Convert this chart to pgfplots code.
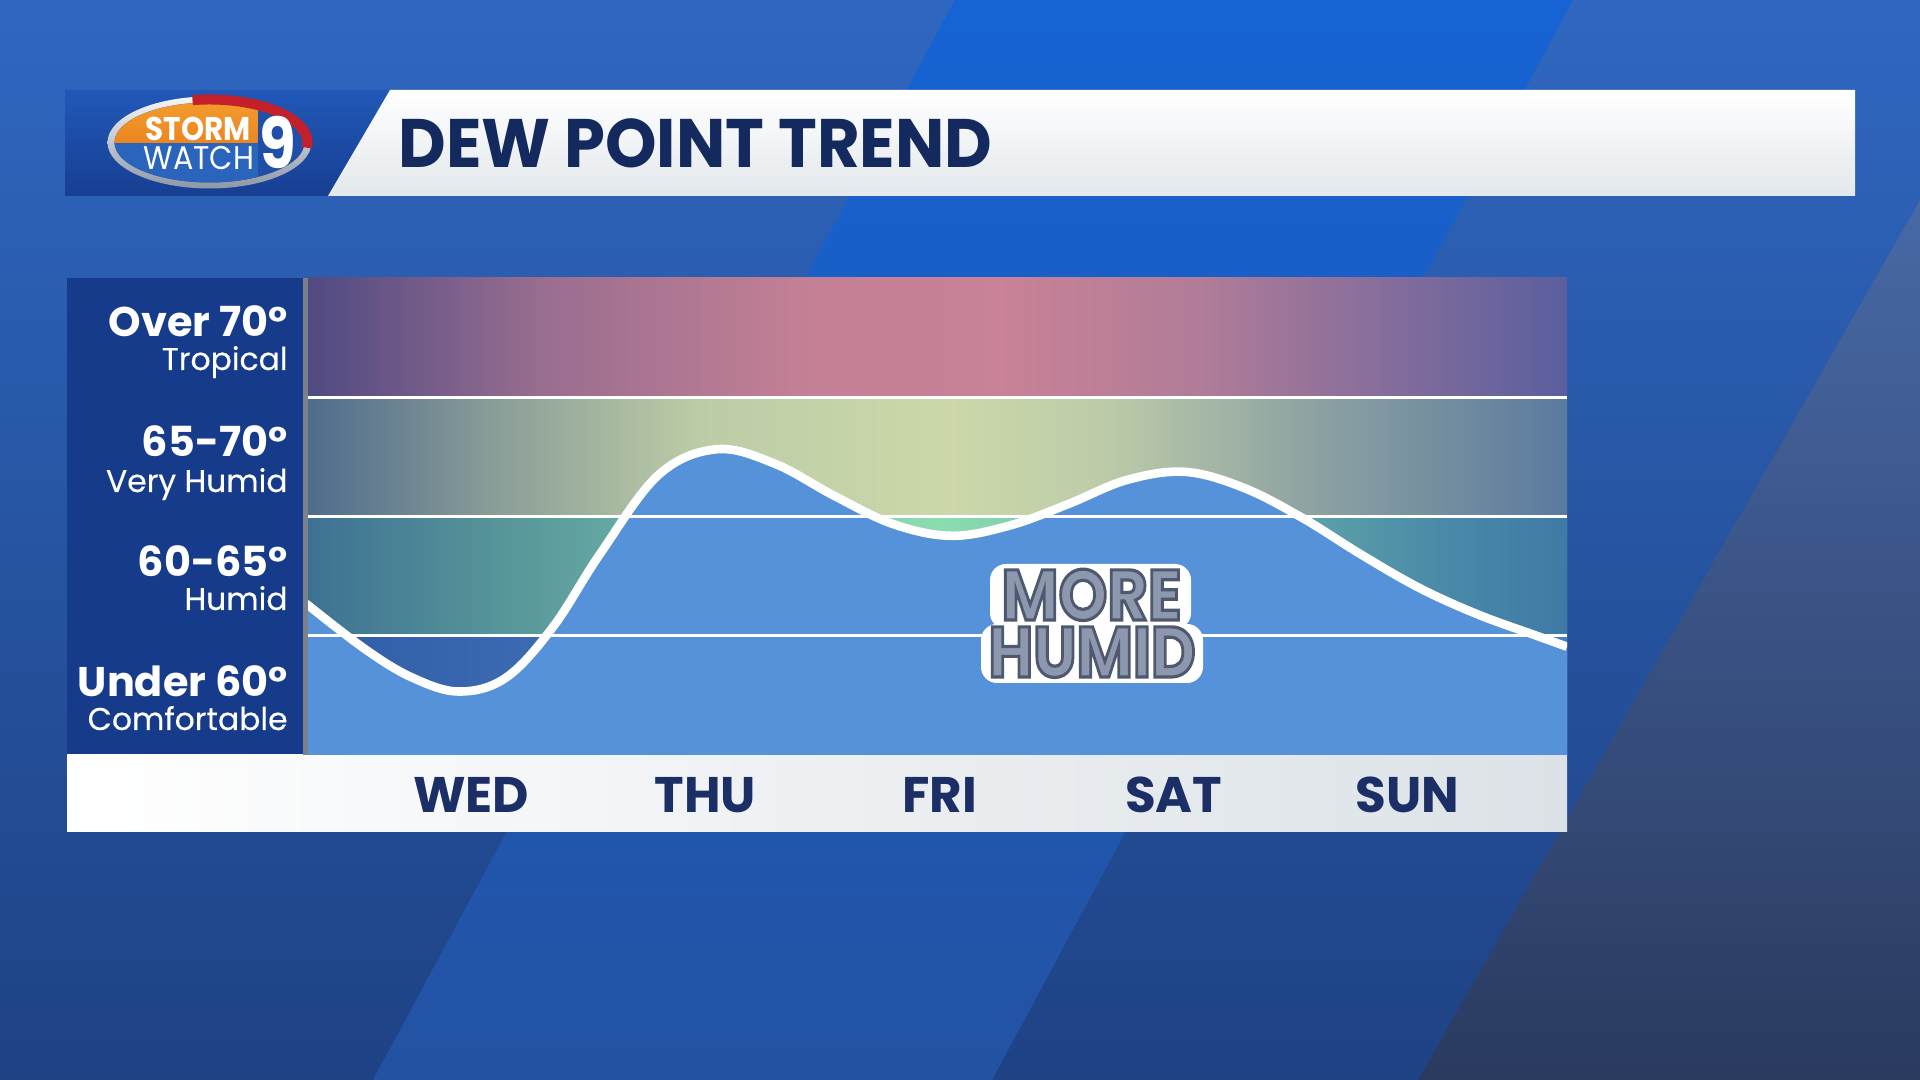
\documentclass[border=0pt]{standalone}
\usepackage{pgfplots}
\usepackage{pgfplotstable}
\pgfplotsset{compat=1.18}
\usepackage{fontspec}
\setmainfont{Poppins}
\newfontfamily\medfont{Poppins}[FakeBold=0.35]

% colours
\definecolor{bgtop}{HTML}{2F67C0}
\definecolor{bgbot}{HTML}{1E4284}
\definecolor{stripetop}{HTML}{1663D4}
\definecolor{stripebot}{HTML}{2452A2}
\definecolor{greytop}{HTML}{4B6AA5}
\definecolor{greybot}{HTML}{2C3A5C}
\definecolor{barblue1}{HTML}{2158B8}
\definecolor{barblue2}{HTML}{173F92}
\definecolor{barwhite2}{HTML}{E3E8EC}
\definecolor{titlenavy}{HTML}{142A5E}
\definecolor{daynavy}{HTML}{1B2F66}
\definecolor{colblue}{HTML}{163B8B}
\definecolor{colborder}{HTML}{7C8088}
\definecolor{stripgrey}{HTML}{DCE2E7}
\definecolor{curvefill}{HTML}{5592DA}
\definecolor{lettergrey}{HTML}{8D98AF}
\definecolor{logoorange}{HTML}{F5A030}
\definecolor{logoorange2}{HTML}{EC8620}
\definecolor{logoblue}{HTML}{2A64BC}
\definecolor{logoblue2}{HTML}{1F4FA6}
\definecolor{logored}{HTML}{C4202C}
\definecolor{silvertop}{HTML}{F4F6F8}
\definecolor{silverbot}{HTML}{8E98A6}

% band gradients, left to right (25bp = left edge, 75bp = right edge)
\pgfdeclarehorizontalshading{bandtrop}{100bp}{
  rgb(0bp)=(0.310,0.290,0.510); rgb(25bp)=(0.310,0.290,0.510);
  rgb(34.5bp)=(0.604,0.431,0.565); rgb(45bp)=(0.769,0.502,0.584);
  rgb(52.5bp)=(0.788,0.510,0.588); rgb(60.5bp)=(0.690,0.486,0.596);
  rgb(67bp)=(0.541,0.435,0.608); rgb(75bp)=(0.353,0.369,0.620);
  rgb(100bp)=(0.353,0.369,0.620)}
\pgfdeclarehorizontalshading{bandvery}{100bp}{
  rgb(0bp)=(0.306,0.420,0.549); rgb(25bp)=(0.306,0.420,0.549);
  rgb(32.5bp)=(0.541,0.616,0.596); rgb(40.5bp)=(0.737,0.800,0.651);
  rgb(50.5bp)=(0.800,0.847,0.667); rgb(56.5bp)=(0.741,0.800,0.659);
  rgb(64.5bp)=(0.561,0.643,0.635); rgb(75bp)=(0.353,0.478,0.624);
  rgb(100bp)=(0.353,0.478,0.624)}
\pgfdeclarehorizontalshading{bandhum}{100bp}{
  rgb(0bp)=(0.239,0.443,0.576); rgb(25bp)=(0.239,0.443,0.576);
  rgb(32.5bp)=(0.341,0.580,0.600); rgb(38.5bp)=(0.408,0.682,0.647);
  rgb(50bp)=(0.553,0.863,0.690); rgb(62.5bp)=(0.388,0.671,0.659);
  rgb(70bp)=(0.290,0.541,0.659); rgb(75bp)=(0.247,0.478,0.647);
  rgb(100bp)=(0.247,0.478,0.647)}
\pgfdeclarehorizontalshading{bandcomf}{100bp}{
  rgb(0bp)=(0.184,0.361,0.651); rgb(25bp)=(0.184,0.361,0.651);
  rgb(32.5bp)=(0.227,0.408,0.690); rgb(40bp)=(0.275,0.459,0.737);
  rgb(75bp)=(0.290,0.486,0.765); rgb(100bp)=(0.290,0.486,0.765)}

% dew point, x in days (WED = 0)
\pgfplotstableread{
x      y
-0.705 61.35
-0.450 59.42
-0.250 58.24
-0.050 57.66
0.150  58.25
0.350  60.37
0.550  63.42
0.800  66.74
1.050  67.82
1.300  67.20
1.550  65.87
1.800  64.69
2.050  64.19
2.300  64.62
2.550  65.52
2.800  66.53
3.050  66.87
3.300  66.20
3.550  64.94
3.800  63.41
4.050  62.00
4.300  60.89
4.550  60.00
4.680  59.54
}\dewpoint

\newcommand\primfont{\fontsize{20.7pt}{24pt}\selectfont\bfseries}
\newcommand\secfont{\fontsize{15.7pt}{18pt}\selectfont\medfont}
\newcommand\dayfont{\fontsize{25pt}{30pt}\selectfont\bfseries}
\newcommand\stickfont{\fontsize{35.7pt}{40pt}\selectfont\bfseries}
% outlined sticker letters: fill + stroke
\newcommand\outlined[1]{\special{pdf:code 2 Tr 1.6 w 0.306 0.345 0.431 RG}#1\special{pdf:code 0 Tr}}

\begin{document}
\begin{tikzpicture}[x=0.5pt,y=0.5pt]
\useasboundingbox (0,0) rectangle (1920,1080);

% background
\shade[top color=bgtop, bottom color=bgbot] (0,0) rectangle (1920,1080);
\shade[top color=stripetop, bottom color=stripebot] (955,1080) -- (1573,1080) -- (992,0) -- (373,0) -- cycle;
\shade[top color=greytop, bottom color=greybot, opacity=0.9] (1418,0) -- (1920,880) -- (1920,0) -- cycle;

% title bar
\shade[top color=barblue1, bottom color=barblue2] (65,990) -- (390,990) -- (328,884) -- (65,884) -- cycle;
\shade[top color=white, middle color=white, bottom color=barwhite2] (390,990) -- (1855,990) -- (1855,884) -- (328,884) -- cycle;
\node[anchor=base west, inner sep=0, text=titlenavy,
      font=\fontsize{34.3pt}{40pt}\selectfont\bfseries] at (398,912) {\scalebox{0.956}[1]{DEW POINT TREND}};

% logo
\begin{scope}[shift={(209.5,937.5)}]
  \shade[top color=silvertop, bottom color=silverbot] (0,0) ellipse [x radius=102, y radius=46];
  \begin{scope}
    \clip (0,0) ellipse [x radius=95, y radius=40];
    \fill[logoblue2] (-100,-50) rectangle (100,50);
    \fill[logoblue] (-100,-50) rectangle (48,0);
    \shade[top color=logoorange, bottom color=logoorange2] (-100,0) rectangle (48,50);
  \end{scope}
  \draw[logored, line width=5] (-7:98 and 43) arc [start angle=-7, end angle=100, x radius=98, y radius=43];
  \node[text=white, font=\fontsize{16.4pt}{18pt}\selectfont\bfseries, inner sep=0] at (-11.5,14) {\scalebox{0.9}[1]{STORM}};
  \node[text=white, font=\fontsize{16.4pt}{18pt}\selectfont, inner sep=0] at (-10.5,-16) {\scalebox{0.92}[1]{WATCH}};
  \node[text=white, font=\fontsize{35pt}{38pt}\selectfont\bfseries, inner sep=0] at (68,0) {\scalebox{0.85}[1]{9}};
\end{scope}

% panel pieces
\fill[colblue] (67,325) rectangle (306,802);
\shade[left color=white, middle color=white, right color=stripgrey] (67,248) rectangle (1567,325);

\begin{axis}[
    at={(153pt,162.5pt)}, anchor=south west,
    scale only axis, width=630.5pt, height=238.5pt,
    xmin=-0.705, xmax=4.68, ymin=55, ymax=75,
    axis line style={draw=none},
    ytick=\empty,
    xtick={0,1,2,3,4},
    xticklabels={WED,THU,FRI,SAT,SUN},
    major tick length=0pt,
    xticklabel style={font=\dayfont, text=daynavy, anchor=base, yshift=-29pt},
  ]
  % comfort bands, painted top down
  \addplot[draw=none, shading=bandtrop] coordinates {(-0.705,75) (4.68,75)} \closedcycle;
  \addplot[draw=none, shading=bandvery] coordinates {(-0.705,70) (4.68,70)} \closedcycle;
  \addplot[draw=none, shading=bandhum]  coordinates {(-0.705,65) (4.68,65)} \closedcycle;
  \addplot[draw=none, shading=bandcomf] coordinates {(-0.705,60) (4.68,60)} \closedcycle;
  % area under the dew point
  \addplot[draw=none, fill=curvefill, smooth, tension=0.6] table {\dewpoint} \closedcycle;
  % band borders
  \addplot[white, line width=1.4pt] coordinates {(-0.705,60) (4.68,60)};
  \addplot[white, line width=1.4pt] coordinates {(-0.705,65) (4.68,65)};
  \addplot[white, line width=1.4pt] coordinates {(-0.705,70) (4.68,70)};
  % dew point line
  \addplot[white, line width=4.3pt, smooth, tension=0.6] table {\dewpoint};
\end{axis}

\draw[colborder, line width=2.5] (305,325) -- (305,802);

% band labels
\node[anchor=base east, inner sep=0, text=white, font=\primfont] at (288,743) {Over 70°};
\node[anchor=base east, inner sep=0, text=white, font=\secfont]  at (288,710) {Tropical};
\node[anchor=base east, inner sep=0, text=white, font=\primfont] at (288,623) {65-70°};
\node[anchor=base east, inner sep=0, text=white, font=\secfont]  at (288,588) {Very Humid};
\node[anchor=base east, inner sep=0, text=white, font=\primfont] at (288,503) {60-65°};
\node[anchor=base east, inner sep=0, text=white, font=\secfont]  at (288,470) {Humid};
\node[anchor=base east, inner sep=0, text=white, font=\primfont] at (288,383) {Under 60°};
\node[anchor=base east, inner sep=0, text=white, font=\secfont]  at (288,350) {Comfortable};

% MORE HUMID sticker
\fill[white, rounded corners=8] (990,451) rectangle (1191,516);
\fill[white, rounded corners=8] (981,397) rectangle (1203,456);
\node[anchor=base, inner sep=0, text=lettergrey, font=\stickfont]
  at (1091.5,460) {\scalebox{0.87}[1]{\outlined{MORE}}};
\node[anchor=base, inner sep=0, text=lettergrey, font=\stickfont]
  at (1092,403) {\scalebox{0.86}[1]{\outlined{HUMID}}};

\end{tikzpicture}
\end{document}
